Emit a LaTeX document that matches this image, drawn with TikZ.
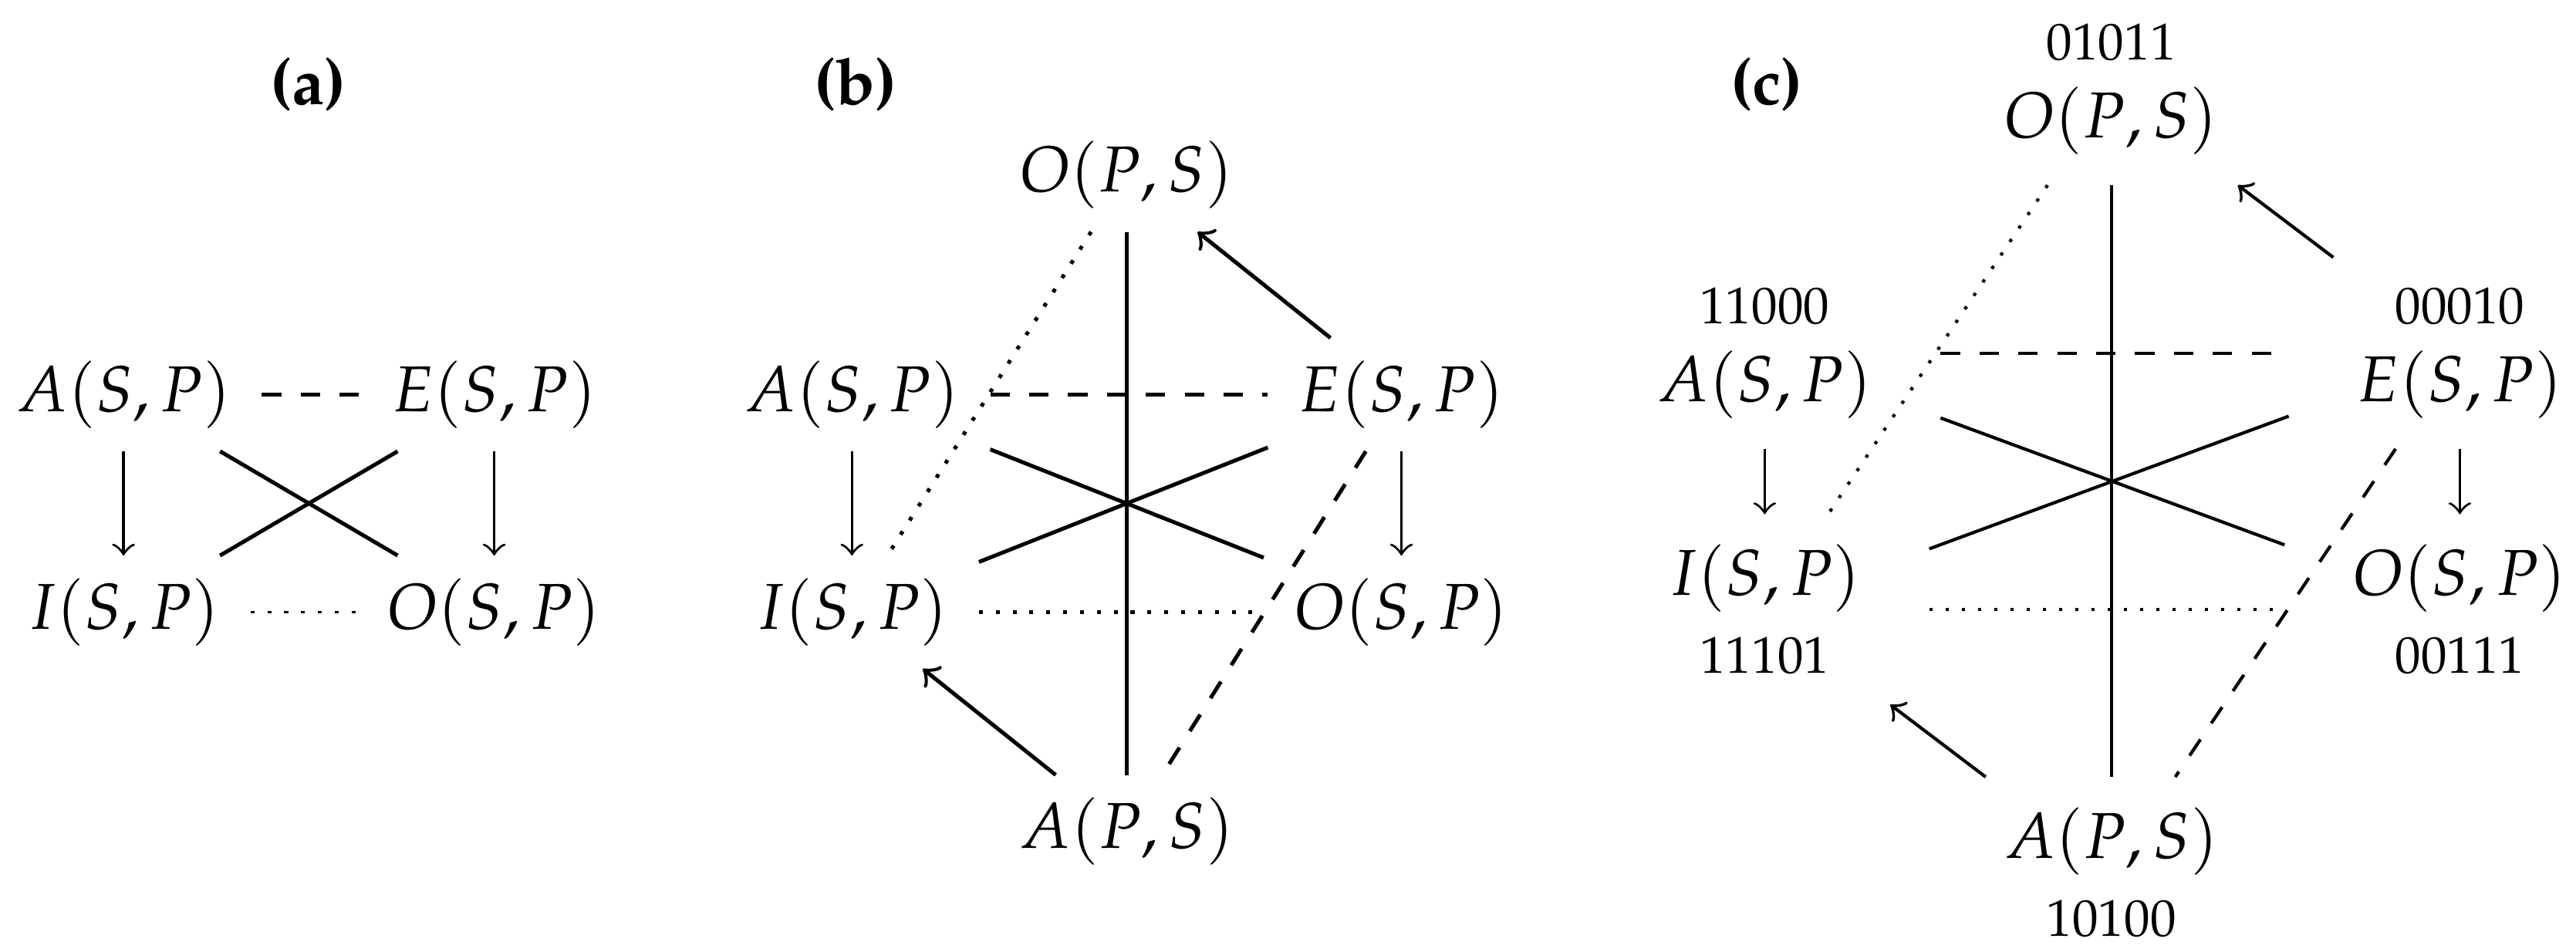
\documentclass[tikz,border=0pt]{standalone}
\usepackage[T1]{fontenc}
\usepackage{mathpazo}
\begin{document}
\begin{tikzpicture}[
  prop/.style={inner xsep=4.6pt,inner ysep=3.33pt},
  hexprop/.style={align=center,inner xsep=10.4pt,inner ysep=4.5pt},
  panel/.style={font=\bfseries},
  impl/.style={->,thin},
  contra/.style={semithick},
  contrary/.style={semithick,dashed},
  subcontrary/.style={semithick,dotted}]
\useasboundingbox (0,0) rectangle (13.97,-5.16);
% (a) square
\node[panel] (la) at (1.67,-0.46) {(a)};
\node[prop] (a1) at (0.67,-2.14) {$A(S,P)$};
\node[prop] (e1) at (2.68,-2.14) {$E(S,P)$};
\node[prop] (i1) at (0.67,-3.32) {$I(S,P)$};
\node[prop] (o1) at (2.68,-3.32) {$O(S,P)$};
\draw[impl] (a1) -- (i1);
\draw[impl] (e1) -- (o1);
\draw[contrary] (a1) -- (e1);
\draw[subcontrary,thin] (i1) -- (o1);
\draw[contra] (a1) -- (o1);
\draw[contra] (e1) -- (i1);
% (b) hexagon
\node[panel] (lb) at (4.64,-0.46) {(b)};
\node[prop] (t2) at (6.11,-0.95) {$O(P,S)$};
\node[prop] (a2) at (4.62,-2.14) {$A(S,P)$};
\node[prop] (e2) at (7.60,-2.14) {$E(S,P)$};
\node[prop] (i2) at (4.62,-3.32) {$I(S,P)$};
\node[prop] (o2) at (7.60,-3.32) {$O(S,P)$};
\node[prop] (b2) at (6.11,-4.51) {$A(P,S)$};
\draw[impl] (a2) -- (i2);
\draw[impl] (e2) -- (o2);
\draw[impl,semithick] (e2) -- (t2);
\draw[impl,semithick] (b2) -- (i2);
\draw[contrary] (a2) -- (e2);
\draw[contrary] (e2) -- (b2);
\draw[subcontrary] (i2) -- (o2);
\draw[subcontrary] (t2) -- (i2);
\draw[contra] (a2) -- (o2);
\draw[contra] (e2) -- (i2);
\draw[contra] (t2) -- (b2);
% (c) hexagon with codes
\node[panel] (lc) at (9.58,-0.46) {(c)};
\node[hexprop] (t3) at (11.45,-0.485) {{\footnotesize 01011}\\$O(P,S)$};
\node[hexprop] (a3) at (9.57,-1.915) {{\footnotesize 11000}\\$A(S,P)$};
\node[hexprop] (e3) at (13.34,-1.915) {{\footnotesize 00010}\\$E(S,P)$};
\node[hexprop] (i3) at (9.57,-3.305) {$I(S,P)$\\{\footnotesize 11101}};
\node[hexprop] (o3) at (13.34,-3.305) {$O(S,P)$\\{\footnotesize 00111}};
\node[hexprop] (b3) at (11.45,-4.73) {$A(P,S)$\\{\footnotesize 10100}};
\begin{scope}[line width=0.5pt]
\draw[impl] (a3) -- (i3);
\draw[impl] (e3) -- (o3);
\draw[->] (e3) -- (t3);
\draw[->] (b3) -- (i3);
\draw[dashed] (a3) -- (e3);
\draw[dashed] (e3) -- (b3);
\draw[dotted] (i3) -- (o3);
\draw[dotted] (t3) -- (i3);
\draw (a3) -- (o3);
\draw (e3) -- (i3);
\draw (t3) -- (b3);
\end{scope}
\end{tikzpicture}
\end{document}
